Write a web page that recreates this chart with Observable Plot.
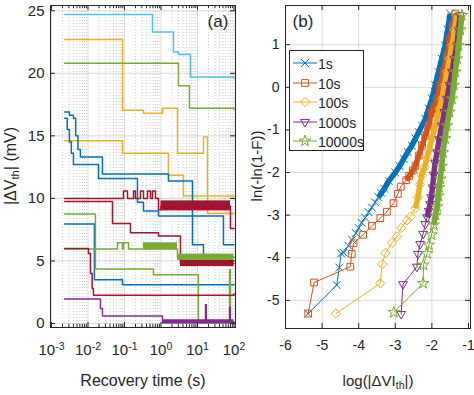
<!DOCTYPE html>
<html><head><meta charset="utf-8">
<script src="https://cdn.jsdelivr.net/npm/d3@7"></script>
<script src="https://cdn.jsdelivr.net/npm/@observablehq/plot@0.6"></script>
<style>
body{margin:0;background:#fff;font-family:"Liberation Sans",Arial,sans-serif;}
#wrap{position:relative;width:474px;height:395px;overflow:hidden;background:#fff;}
#wrap svg{position:absolute;top:0;}
.lab{position:absolute;white-space:nowrap;color:#262626;line-height:1;}
.lab sub{font-size:0.7em;vertical-align:-0.3em;line-height:0;}
#legend{position:absolute;left:289px;top:50px;width:75px;height:101px;border:1px solid #262626;background:#fff;box-sizing:border-box;}
.row{position:absolute;left:0;height:20px;width:100%;}
.row svg{position:absolute;left:2px;top:0;}
.row span{position:absolute;left:28px;top:3px;font-size:14px;color:#262626;}
</style></head><body><div id="wrap"></div>
<script>
// ---------- Panel (a): recovery traces (time s, |dVth| mV) ----------
const t_lblue = [0.0023, 0.585, 2.20, 3.01, 6.43, 100];
const v_lblue = [24.7, 23.3, 21.7, 21.5, 19.7, 19.6];
const t_yel1 = [0.0023, 0.0881, 0.332, 1.10, 2.83, 14.6, 18.8, 100];
const v_yel1 = [22.7, 17.05, 16.8, 17.2, 13.6, 14.9, 8.8, 8.8];
const t_grn1 = [0.0023, 3.01, 6.04, 100];
const v_grn1 = [20.8, 19.0, 17.2, 17.1];
const t_yel2 = [0.0023, 0.0881, 1.60, 4.13, 100];
const v_yel2 = [14.6, 13.6, 11.85, 10.2, 10.2];
const t_blueB = [0.0023, 0.0031, 0.0040, 0.0046, 0.0053, 0.0062, 0.0249, 1.60, 7.29, 14.6, 100];
const v_blueB = [16.9, 16.65, 16.4, 15.0, 13.9, 13.3, 11.95, 11.4, 6.3, 5.3, 5.3];
const t_blueA = [0.0023, 0.0027, 0.0031, 0.0035, 0.0040, 0.0194, 0.227, 0.332, 0.855, 51.5, 100];
const v_blueA = [16.4, 15.5, 14.5, 13.6, 12.7, 11.6, 9.7, 9.0, 8.6, 6.3, 6.3];
const t_redTop = [0.0023, 0.0939, 0.121, 0.177, 0.200, 0.274, 0.332, 0.427, 0.516, 0.585, 0.707, 0.855, 1.0, 80.1, 100];
const v_redTop = [10.0, 10.6, 10.0, 10.6, 10.0, 10.6, 10.0, 10.6, 10.0, 10.6, 10.0, 9.1, 9.4, 7.6, 7.6];
const t_redMid = [0.0023, 0.0469, 0.146, 0.855, 3.42, 100];
const v_redMid = [9.75, 8.0, 7.25, 7.0, 4.8, 4.8];
const t_redLow = [0.0023, 0.0103, 0.0117, 0.0130, 0.0141, 100];
const v_redLow = [6.0, 5.6, 4.0, 2.8, 2.25, 2.35];
const t_grn2 = [0.0023, 0.0160, 0.623, 10.6, 76, 80, 100];
const v_grn2 = [8.75, 4.35, 3.9, 0.1, 4.3, 0.1, 0.1];
const t_grn3 = [0.0023, 0.0643, 0.0881, 0.0939, 0.129, 0.332, 2.83, 100];
const v_grn3 = [5.95, 6.45, 5.95, 6.45, 5.95, 5.95, 5.3, 5.3];
const t_blue3 = [0.0023, 0.0150, 0.0881, 100];
const v_blue3 = [7.95, 3.5, 3.1, 3.1];
const t_purp = [0.0023, 0.0220, 0.0249, 1.10, 16.6, 17.5, 76, 79, 100];
const v_purp = [1.95, 1.2, 0.6, 0.1, 1.5, 0.1, 1.3, 0.1, 0.1];

// noisy (telegraph) bands: [t start, t end, low, high]
const band_redTop = [1.0, 80.1, 9.0, 9.8];
const band_redMid = [3.42, 100, 4.55, 5.05];
const band_grn3a = [0.332, 2.83, 5.9, 6.45];
const band_grn3b = [2.83, 100, 5.05, 5.55];
const band_purp = [1.10, 100, -0.05, 0.3];

const aTicks = [1e-3, 1e-2, 1e-1, 1, 10, 100];
const aYTicks = [0, 5, 10, 15, 20, 25];

// ---------- Panel (b): Weibull plot ----------
const x_1s = [-5.38,-4.60,-4.53,-4.48,-4.41,-4.28,-4.18,-4.08,-4.0,-3.92,-3.82,-3.73,-3.64,-3.55,-3.46,-3.38,-3.30,-3.18,-3.00,-2.88,-2.77,-2.66,-2.55,-2.45,-2.36,-2.27,-2.18,-2.09,-2.00,-1.91,-1.82,-1.73,-1.64,-1.57,-1.50];
const y_1s = [-5.31,-4.64,-4.23,-3.90,-3.88,-3.72,-3.58,-3.42,-3.30,-3.18,-3.06,-2.93,-2.82,-2.70,-2.58,-2.48,-2.38,-2.20,-2.00,-1.85,-1.68,-1.52,-1.37,-1.20,-1.05,-0.90,-0.74,-0.50,-0.27,0.05,0.36,0.67,0.98,1.35,1.73];
const x_10s = [-5.38,-5.22,-4.23,-4.19,-4.14,-3.88,-3.64,-3.41,-3.23,-3.05,-2.93,-2.85,-2.70,-2.62,-2.52,-2.45,-2.36,-2.27,-2.18,-2.09,-2.00,-1.93,-1.86,-1.77,-1.68,-1.59,-1.50,-1.43,-1.36];
const y_10s = [-5.31,-4.58,-4.21,-3.91,-3.66,-3.46,-3.25,-3.07,-2.92,-2.72,-2.50,-2.33,-2.18,-2.08,-1.95,-1.84,-1.60,-1.37,-1.13,-0.90,-0.60,-0.45,-0.27,0.05,0.36,0.75,1.14,1.45,1.73];
const x_100s = [-4.62,-3.41,-3.36,-3.27,-3.09,-2.95,-2.84,-2.68,-2.58,-2.45,-2.38,-2.33,-2.28,-2.20,-2.14,-2.07,-2.00,-1.93,-1.86,-1.80,-1.73,-1.66,-1.59,-1.52,-1.45,-1.38,-1.32];
const y_100s = [-5.31,-4.60,-4.15,-3.89,-3.65,-3.50,-3.30,-3.12,-3.03,-2.84,-2.58,-2.28,-2.07,-1.88,-1.68,-1.45,-1.21,-0.98,-0.74,-0.50,-0.27,0.05,0.36,0.67,0.98,1.35,1.69];
const x_1000s = [-2.84,-2.79,-2.41,-2.38,-2.32,-2.24,-2.18,-2.13,-2.09,-2.05,-2.02,-1.98,-1.95,-1.91,-1.86,-1.80,-1.73,-1.66,-1.59,-1.52,-1.45,-1.39,-1.32,-1.27,-1.23];
const y_1000s = [-5.32,-4.62,-4.21,-3.91,-3.68,-3.44,-3.21,-3.05,-2.90,-2.74,-2.58,-2.35,-2.05,-1.77,-1.53,-1.22,-0.90,-0.58,-0.27,0.05,0.36,0.67,0.98,1.35,1.69];
const x_10000s = [-3.04,-2.24,-2.23,-2.13,-2.08,-2.01,-1.95,-1.90,-1.86,-1.82,-1.80,-1.77,-1.73,-1.70,-1.64,-1.59,-1.52,-1.45,-1.40,-1.36,-1.31,-1.27,-1.22,-1.18];
const y_10000s = [-5.28,-4.60,-4.17,-3.90,-3.70,-3.46,-3.23,-3.00,-2.80,-2.55,-2.35,-2.15,-1.85,-1.53,-1.20,-0.90,-0.58,-0.27,0.05,0.36,0.67,0.98,1.35,1.69];
const legendNames = ["1s", "10s", "100s", "1000s", "10000s"];
const bXTicks = [-6, -5, -4, -3, -2, -1];
const bYTicks = [-5, -4, -3, -2, -1, 0, 1];

// ---------- build ----------
const C = {blue:"#0072BD", orange:"#D95319", yellow:"#EDB120", purple:"#7E2F8E", green:"#77AC30", lblue:"#4DBEEE", red:"#A2142F"};
const axisColor = "#262626";
const wrap = document.getElementById("wrap");
const font = "Liberation Sans, Arial, sans-serif";

const traces = [
  [t_lblue, v_lblue, C.lblue], [t_yel1, v_yel1, C.yellow], [t_grn1, v_grn1, C.green],
  [t_yel2, v_yel2, C.yellow], [t_blueA, v_blueA, C.blue], [t_blueB, v_blueB, C.blue],
  [t_blue3, v_blue3, C.blue], [t_grn2, v_grn2, C.green], [t_redMid, v_redMid, C.red],
  [t_grn3, v_grn3, C.green], [t_redTop, v_redTop, C.red], [t_redLow, v_redLow, C.red],
  [t_purp, v_purp, C.purple]
];
const bands = [[band_redTop, C.red], [band_grn3a, C.green], [band_grn3b, C.green], [band_redMid, C.red], [band_purp, C.purple]];
const isDecade = d => Math.abs(Math.log10(d) - Math.round(Math.log10(d))) < 1e-6;
const aMinor = d3.scaleLog().domain([1e-3, 100]).ticks().filter(d => !isDecade(d));

const aFrameH = 395 - 5 - 68, aFrameW = 240 - 50 - 5;
const plotA = Plot.plot({
  width: 240, height: 395, marginLeft: 50, marginRight: 5, marginTop: 5, marginBottom: 68,
  x: {type: "log", domain: [0.00094, 110], axis: null, label: null},
  y: {domain: [-0.32, 25.42], axis: null, label: null},
  style: {fontSize: "15px", fontFamily: font, color: axisColor, background: "transparent", overflow: "visible"},
  marks: [
    Plot.gridX(aMinor, {stroke: "#000", strokeOpacity: 0.2, strokeDasharray: "1,2"}),
    Plot.gridX(aTicks, {stroke: "#000", strokeOpacity: 0.14}),
    Plot.gridY(aYTicks, {stroke: "#000", strokeOpacity: 0.14}),
    ...traces.map(([t, v, c]) => Plot.line(t.map((d, i) => ({t: d, v: v[i]})), {x: "t", y: "v", stroke: c, strokeWidth: 1.5, curve: "step-after"})),
    ...bands.map(([b, c]) => Plot.rect([b], {x1: d => d[0], x2: d => d[1], y1: d => d[2], y2: d => d[3], fill: c})),
    Plot.tickX(aTicks, {x: d => d, insetTop: aFrameH - 5, stroke: axisColor}),
    Plot.tickX(aTicks, {x: d => d, insetBottom: aFrameH - 5, stroke: axisColor}),
    Plot.tickX(aMinor, {x: d => d, insetTop: aFrameH - 3, stroke: axisColor}),
    Plot.tickX(aMinor, {x: d => d, insetBottom: aFrameH - 3, stroke: axisColor}),
    Plot.tickY(aYTicks, {y: d => d, insetRight: aFrameW - 5, stroke: axisColor}),
    Plot.tickY(aYTicks, {y: d => d, insetLeft: aFrameW - 5, stroke: axisColor}),
    Plot.frame({stroke: axisColor}),
    Plot.axisX(aTicks, {tickSize: 0, tickPadding: 17, label: null, tickFormat: d => String(Math.round(Math.log10(d)))}),
    Plot.axisY(aYTicks, {tickSize: 0, tickPadding: 6, label: null})
  ]
});
plotA.style.left = "0px";
const NS = "http://www.w3.org/2000/svg";
plotA.querySelectorAll('g[aria-label="x-axis tick label"] text').forEach(t => {
  const e = t.textContent; t.textContent = "";
  const a = document.createElementNS(NS, "tspan"); a.textContent = "10";
  const b = document.createElementNS(NS, "tspan"); b.textContent = e.replace("−", "-");
  b.setAttribute("dy", "-0.5em"); b.setAttribute("font-size", "10.5");
  t.appendChild(a); t.appendChild(b);
});
wrap.appendChild(plotA);

// [x, y, colour, symbol, r, rotate, y above which markers merge into a dense band]
const series = [
  [x_1s, y_1s, C.blue, "times", 3.6, 0, -2.6],
  [x_10s, y_10s, C.orange, "square2", 4.3, 0, -2.2],
  [x_100s, y_100s, C.yellow, "diamond2", 4.2, 0, -2.9],
  [x_1000s, y_1000s, C.purple, "triangle2", 4.2, 180, -3.1],
  [x_10000s, y_10000s, C.green, "star", 3.6, 0, -3.3]
];
const bFrameH = 395 - 5 - 67, bFrameW = 234 - 45 - 4;
const plotB = Plot.plot({
  width: 234, height: 395, marginLeft: 45, marginRight: 4, marginTop: 5, marginBottom: 67,
  x: {domain: [-6.0, -0.945], axis: null, label: null},
  y: {domain: [-5.66, 1.92], axis: null, label: null},
  style: {fontSize: "14px", fontFamily: font, color: axisColor, background: "transparent", overflow: "visible"},
  marks: [
    Plot.gridX(bXTicks, {stroke: "#000", strokeOpacity: 0.14}),
    Plot.gridY(bYTicks, {stroke: "#000", strokeOpacity: 0.14}),
    ...series.flatMap(([xs, ys, c, sym, r, rot, dense]) => {
      const rows = xs.map((x, i) => ({x, y: ys[i]}));
      return [
        Plot.line(rows, {x: "x", y: "y", stroke: c, strokeWidth: 1}),
        Plot.line(rows.filter(d => d.y >= dense), {x: "x", y: "y", stroke: c, strokeWidth: 5.5, strokeLinecap: "butt"}),
        Plot.dot(rows, {x: "x", y: "y", symbol: sym, r, rotate: rot, stroke: c, fill: "none", strokeWidth: 1})
      ];
    }),
    Plot.tickX(bXTicks, {x: d => d, insetTop: bFrameH - 5, stroke: axisColor}),
    Plot.tickX(bXTicks, {x: d => d, insetBottom: bFrameH - 5, stroke: axisColor}),
    Plot.tickY(bYTicks, {y: d => d, insetRight: bFrameW - 5, stroke: axisColor}),
    Plot.tickY(bYTicks, {y: d => d, insetLeft: bFrameW - 5, stroke: axisColor}),
    Plot.frame({stroke: axisColor}),
    Plot.axisX(bXTicks, {tickSize: 0, tickPadding: 12, label: null, tickFormat: d => String(d)}),
    Plot.axisY(bYTicks, {tickSize: 0, tickPadding: 6, label: null, tickFormat: d => String(d)})
  ]
});
plotB.style.left = "240px";
wrap.appendChild(plotB);

// ---------- text labels ----------
function label(html, cx, cy, size, rot) {
  const d = document.createElement("div");
  d.className = "lab"; d.innerHTML = html;
  d.style.left = cx + "px"; d.style.top = cy + "px"; d.style.fontSize = size + "px";
  d.style.transform = "translate(-50%,-50%)" + (rot ? " rotate(-90deg)" : "");
  wrap.appendChild(d);
}
label("|ΔV<sub>th</sub>| (mV)", 11, 166, 16, true);
label("Recovery time (s)", 143, 381, 16, false);
label("(a)", 218, 21, 17, false);
label("ln(-ln(1-F))", 256, 166, 15, true);
label("log(|ΔVI<sub>th</sub>|)", 378, 380, 15, false);
label("(b)", 303, 21, 17, false);

// legend
const leg = document.createElement("div"); leg.id = "legend";
series.forEach(([xs, ys, c, sym, r, rot], i) => {
  const row = document.createElement("div"); row.className = "row";
  row.style.top = (2 + i * 19.6) + "px";
  const symMap = {times: d3.symbolTimes, square2: d3.symbolSquare2, diamond2: d3.symbolDiamond2, triangle2: d3.symbolTriangle2, star: d3.symbolStar};
  const path = d3.symbol(symMap[sym], Math.PI * r * r)();
  row.innerHTML = `<svg width="26" height="20"><line x1="1" x2="25" y1="10" y2="10" stroke="${c}" stroke-width="1"/><path d="${path}" transform="translate(13,10) rotate(${rot})" fill="none" stroke="${c}" stroke-width="1"/></svg><span>${legendNames[i]}</span>`;
  leg.appendChild(row);
});
wrap.appendChild(leg);
</script></body></html>
